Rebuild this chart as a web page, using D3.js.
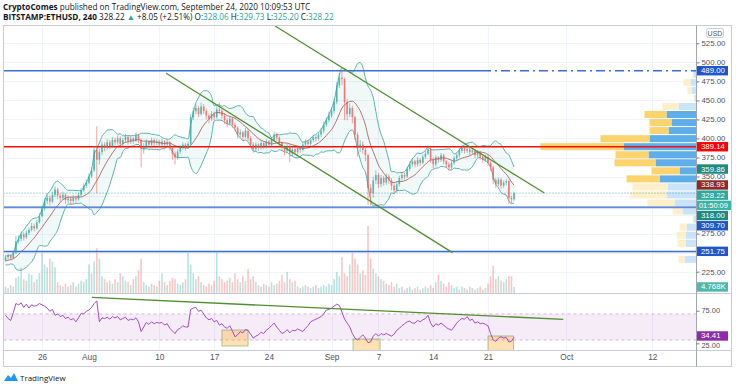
<!DOCTYPE html>
<html>
<head>
<meta charset="utf-8">
<script src="https://cdn.jsdelivr.net/npm/d3@7"></script>
<style>
  body { margin: 0; background: #fff; }
  svg { display: block; font-family: "Liberation Sans", Arial, sans-serif; }
</style>
</head>
<body>
<div id="chart"></div>
<script>
// ETHUSD, Bitstamp - candles (8h buckets from Jul 21 08:00 UTC)
const firstOpen = 240;
const warmupCloses = [236, 238, 235, 239, 241, 238, 236, 240, 242, 240];

const closes = [
  244,246,243,250,265,268,274,270,276,280,
  285,282,290,298,308,318,322,317,326,333,
  325,322,326,319,321,318,322,320,326,332,
  338,342,350,358,385,372,382,392,388,395,
  390,398,395,400,393,398,402,396,400,397,
  404,398,386,390,396,392,398,394,396,392,
  396,392,395,388,380,375,383,388,392,388,
  393,428,436,440,432,442,436,430,426,432,
  428,438,436,430,424,420,426,418,414,405,
  408,402,410,400,392,386,392,388,394,390,
  396,392,398,405,401,394,388,384,390,380,
  386,382,388,385,392,396,393,398,402,400,
  405,410,418,424,430,436,448,470,480,478,
  448,432,440,428,405,390,392,385,378,335,
  328,345,352,340,348,342,350,345,338,332,
  340,348,352,350,360,366,370,366,372,368,
  376,380,386,372,366,375,372,378,370,366,
  362,368,374,378,384,388,384,386,382,384,
  378,382,376,372,376,368,362,345,340,346,
  338,342,344,322,320,328.22
];

const highs = [
  247,249,248,252,272,273,278,277,279,283,
  289,288,293,302,312,322,326,325,330,337,
  335,328,330,328,325,324,326,325,329,335,
  341,346,354,362,390,416,387,396,395,399,
  398,402,401,404,403,401,406,404,403,402,
  408,406,400,394,399,398,401,400,399,398,
  399,398,398,397,390,383,386,391,395,394,
  396,432,441,445,443,447,445,439,433,436,
  435,442,447,439,433,427,429,428,421,416,
  412,410,414,412,403,395,395,394,397,396,
  399,398,402,409,408,403,396,391,393,392,
  389,388,391,390,395,399,398,401,405,404,
  408,414,422,428,435,441,452,474,486,490,
  480,452,446,443,430,408,398,396,388,380,
  340,350,358,355,352,351,354,353,348,341,
  343,351,356,355,363,370,374,372,376,374,
  379,384,391,388,375,378,377,381,380,372,
  369,371,377,381,387,391,390,389,388,387,
  386,385,384,379,379,378,370,364,348,349,
  348,345,347,346,325,330
];

const lows = [
  238,241,240,242,248,262,265,266,268,273,
  278,278,280,288,296,305,314,312,315,323,
  320,317,319,314,315,313,315,316,318,324,
  330,335,340,348,356,328,366,378,383,385,
  386,388,391,392,389,390,395,392,393,393,
  395,394,362,380,387,388,389,390,391,388,
  389,387,389,384,372,366,372,380,385,384,
  386,391,424,432,428,430,432,425,420,423,
  424,426,432,426,419,415,417,414,409,400,
  401,397,400,396,388,381,383,384,385,386,
  387,388,390,396,397,390,384,378,381,369,
  376,378,379,381,383,389,389,390,395,396,
  397,402,407,415,421,427,433,445,466,470,
  424,424,428,420,398,376,382,380,370,313,
  312,322,340,335,336,338,339,340,332,328,
  329,337,345,346,348,357,363,362,363,364,
  366,373,378,368,361,363,368,369,366,361,
  358,359,365,371,375,381,380,381,378,379,
  374,375,372,368,369,364,357,340,335,337,
  334,335,338,314,315,318
];

// volume, thousands of ETH
const volumes = [
  5,4,6,5,11,12,18,10,9,14,
  13,8,10,14,28,20,18,24,22,18,
  8,6,5,7,5,6,8,5,7,9,
  8,10,20,14,22,31,24,12,10,8,
  9,7,10,8,14,12,9,8,6,10,
  12,16,24,8,6,5,7,6,5,9,
  14,8,6,9,11,10,7,6,8,10,
  28,20,14,10,12,8,6,5,7,6,
  9,28,12,10,8,9,11,8,14,10,
  8,12,9,17,10,12,8,6,5,7,
  6,5,8,6,7,9,13,8,15,10,
  8,9,5,4,5,6,5,4,5,6,
  4,5,6,5,7,6,10,15,12,25,
  14,12,20,28,24,20,14,16,13,46,
  24,17,14,12,10,9,7,6,8,5,
  7,4,5,3,4,5,3,4,5,3,
  4,5,4,6,4,8,13,9,7,5,
  8,6,4,5,3,5,4,3,5,4,
  3,4,5,3,4,7,12,19,10,12,
  9,8,10,12,12,4.768
];

const rsiValues = [
  68,63,60,72,86,84,87,80,85,79,
  84,82,83,86,84,82,79,74,77,68,
  70,66,68,63,65,61,63,58,64,71,
  70,74,76,80,86,90,58,64,63,65,
  62,66,64,66,61,63,65,60,62,61,
  64,58,43,50,57,54,58,55,57,56,
  57,53,55,48,44,40,46,48,52,50,
  50,77,79,80,74,76,70,64,61,63,
  58,60,53,55,50,48,52,44,35,38,
  43,41,46,45,39,33,36,38,42,40,
  45,48,52,56,50,45,40,42,46,41,
  45,44,47,45,43,48,52,58,60,62,
  64,66,70,76,77,79,82,85,83,73,
  62,56,50,40,33,30,34,38,33,26,
  27,36,40,36,40,38,40,38,36,39,
  45,48,52,55,58,59,56,56,60,58,
  61,63,68,56,50,55,53,56,53,49,
  47,45,50,56,60,63,62,66,60,62,
  56,58,55,56,54,52,40,30,28,33,
  35,33,34,27,28,34.41
];

// volume profile, visible range (rows from the top price down)
const vpTopPrice = 489.6;
const vpRowSize = 10.57;
const vpUp   = [3,6,5,2,18,30,25,28,47,73,48,41,17,37,29,30,22,14,3,10,11,11,1,12];
const vpDown = [1,7,4,1,16,22,22,19,49,83,33,41,28,33,35,36,27,10,1,7,9,8,0,6];
const vpValueArea = [5, 13];

const priceTicks = [525, 500, 475, 450, 425, 400, 375, 350, 275, 225];
const priceGrid = [525, 500, 475, 450, 425, 400, 375, 350, 325, 300, 275, 250, 225];
const rsiTicks = [75, 25];
const tickDates = ["2020-07-26","2020-08-01","2020-08-10","2020-08-17","2020-08-24","2020-09-01","2020-09-07","2020-09-14","2020-09-21","2020-10-01","2020-10-12"];
const tickLabels = ["26","Aug","10","17","24","Sep","7","14","21","Oct","12"];

const levelPrices = [489.00, 389.14, 309.70, 251.75];
const lastPrice = 328.22;
const bbLast = [359.86, 338.93, 318.00];
const countdown = "01:50:09";
const lastVolumeText = "4.768K";
const lastRsi = 34.41;

const channelUpper = [["2020-08-24T19:00Z", 547.7], ["2020-09-28T05:00Z", 328.4]];
const channelLower = [["2020-08-10T21:00Z", 485.6], ["2020-09-16T11:00Z", 250.0]];
const rsiTrend = [["2020-08-01T09:00Z", 95.5], ["2020-09-30T15:00Z", 61.8]];
const rsiBoxes = [
  ["2020-08-18T00:00Z", "2020-08-21T08:00Z", 45.4, 20.9],
  ["2020-09-03T18:00Z", "2020-09-07T05:00Z", 31.6, 14],
  ["2020-09-21T00:00Z", "2020-09-24T06:00Z", 36.2, 14]
];

const headerLine1 = ["CryptoComes", " published on TradingView.com, September 24, 2020 10:09:53 UTC"];
const headerSymbol = "BITSTAMP:ETHUSD, 240";
const headerChange = ["328.22", "▲", "+8.05 (+2.51%)"];
const headerOHLC = [["O:", "328.06"], ["H:", "329.73"], ["L:", "325.20"], ["C:", "328.22"]];

// ---------------------------------------------------------------------------
const W = 736, H = 387;
const LEFT = 3.5, AXIS_X = 696.5, RIGHT = 731.5;
const TOP = 25.5, PRICE_BOTTOM = 293.5, RSI_BOTTOM = 350.5, BOTTOM = 366.5;
const START = Date.UTC(2020, 6, 21, 8);
const STEP = 8 * 3600e3;

const UP = "#26a69a", DOWN = "#ef5350", LEVEL_BLUE = "#3b6fd4";

const svg = d3.select("#chart").append("svg")
  .attr("width", W).attr("height", H);

const x = d3.scaleUtc()
  .domain([new Date("2020-07-26T00:00Z"), new Date("2020-09-21T00:00Z")])
  .range([42, 488]);
const y = d3.scaleLinear().domain([225, 525]).range([271.7, 43.3]);
const rsiY = d3.scaleLinear().domain([25, 75]).range([343.3, 310.7]);
const volY = d3.scaleLinear().domain([0, 46]).range([294, 226]);
const vpX = d3.scaleLinear().domain([0, 156]).range([AXIS_X, AXIS_X - 156]);

const candles = closes.map((c, i) => ({
  t: new Date(START + i * STEP),
  o: i === 0 ? firstOpen : closes[i - 1],
  h: highs[i], l: lows[i], c: c, v: volumes[i], rsi: rsiValues[i]
}));

// bollinger (period 10 on 8h = 20 on 4h), 2 std
const allCloses = warmupCloses.concat(closes);
const bb = closes.map((c, i) => {
  const win = allCloses.slice(i + warmupCloses.length - 9, i + warmupCloses.length + 1);
  const m = d3.mean(win);
  const sd = Math.sqrt(d3.mean(win, v => (v - m) * (v - m)));
  return { t: candles[i].t, mid: m, up: m + 2 * sd, lo: m - 2 * sd };
});

// clip paths
const defs = svg.append("defs");
defs.append("clipPath").attr("id", "pricePane").append("rect")
  .attr("x", LEFT).attr("y", TOP).attr("width", AXIS_X - LEFT).attr("height", PRICE_BOTTOM - TOP);
defs.append("clipPath").attr("id", "rsiPane").append("rect")
  .attr("x", LEFT).attr("y", PRICE_BOTTOM).attr("width", AXIS_X - LEFT).attr("height", RSI_BOTTOM - PRICE_BOTTOM);

// header
const header = svg.append("g").style("font-family", "'Open Sans', 'Liberation Sans', sans-serif").style("font-size", "8.2px").attr("fill", "#131722");
const h1 = header.append("text").attr("x", 3).attr("y", 9.5);
h1.append("tspan").attr("font-weight", "bold").text(headerLine1[0]);
h1.append("tspan").text(headerLine1[1]);
const h2 = header.append("text").attr("x", 3).attr("y", 19.5);
h2.append("tspan").attr("font-weight", "bold").text(headerSymbol);
h2.append("tspan").text(" " + headerChange[0] + " ");
h2.append("tspan").attr("fill", UP).text(headerChange[1]);
h2.append("tspan").text(" " + headerChange[2]);
headerOHLC.forEach(([k, v]) => {
  h2.append("tspan").text(" " + k);
  h2.append("tspan").attr("fill", UP).text(v);
});

// grid
const grid = svg.append("g").attr("stroke", "#f0f3fa").attr("stroke-width", 1);
grid.selectAll("line.h").data(priceGrid).enter().append("line")
  .attr("x1", LEFT).attr("x2", AXIS_X)
  .attr("y1", d => Math.round(y(d)) + 0.5).attr("y2", d => Math.round(y(d)) + 0.5);
grid.selectAll("line.v").data(tickDates).enter().append("line")
  .attr("x1", d => Math.round(x(new Date(d + "T00:00Z"))) + 0.5)
  .attr("x2", d => Math.round(x(new Date(d + "T00:00Z"))) + 0.5)
  .attr("y1", TOP).attr("y2", RSI_BOTTOM);

// volume profile
const vp = svg.append("g");
vpUp.forEach((u, i) => {
  const d = vpDown[i];
  const y0 = y(vpTopPrice - i * vpRowSize) + 0.5;
  const y1 = y(vpTopPrice - (i + 1) * vpRowSize) - 0.5;
  const inVA = i >= vpValueArea[0] && i <= vpValueArea[1];
  vp.append("rect").attr("x", vpX(u)).attr("y", y0).attr("width", AXIS_X - vpX(u)).attr("height", y1 - y0)
    .attr("fill", inVA ? "#5eaeea" : "#c9e3f8");
  vp.append("rect").attr("x", vpX(u + d)).attr("y", y0).attr("width", vpX(u) - vpX(u + d)).attr("height", y1 - y0)
    .attr("fill", inVA ? "#fcd36c" : "#fdefc9");
});

const price = svg.append("g").attr("clip-path", "url(#pricePane)");

// volume bars
price.selectAll("rect.vol").data(candles).enter().append("rect")
  .attr("x", d => x(d.t) - 0.8).attr("width", 1.6)
  .attr("y", d => volY(d.v)).attr("height", d => volY(0) - volY(d.v))
  .attr("fill", d => d.c >= d.o ? UP : DOWN).attr("opacity", 0.33);

// bollinger bands
price.append("path").datum(bb)
  .attr("d", d3.area().x(d => x(d.t)).y0(d => y(d.lo)).y1(d => y(d.up)).curve(d3.curveMonotoneX))
  .attr("fill", "rgba(38,166,154,0.07)");
[["up", "#5cb3a9"], ["lo", "#5cb3a9"], ["mid", "#b06363"]].forEach(([k, col]) => {
  price.append("path").datum(bb)
    .attr("d", d3.line().x(d => x(d.t)).y(d => y(d[k])).curve(d3.curveMonotoneX))
    .attr("fill", "none").attr("stroke", col).attr("stroke-width", k === "mid" ? 0.9 : 1);
});

// horizontal levels
const lastY = y(lastPrice);
price.append("line").attr("x1", LEFT).attr("x2", AXIS_X).attr("y1", lastY).attr("y2", lastY)
  .attr("stroke", UP).attr("stroke-width", 0.8).attr("stroke-dasharray", "1,2");
levelPrices.forEach((p, i) => {
  const yy = y(p);
  if (i === 1) {
    price.append("line").attr("x1", LEFT).attr("x2", AXIS_X).attr("y1", yy).attr("y2", yy)
      .attr("stroke", "#f01010").attr("stroke-width", 1.3);
    return;
  }
  if (i === 0) {
    price.append("line").attr("x1", LEFT).attr("x2", 482).attr("y1", yy).attr("y2", yy)
      .attr("stroke", LEVEL_BLUE).attr("stroke-width", 1.5);
    price.append("line").attr("x1", 482).attr("x2", AXIS_X).attr("y1", yy).attr("y2", yy)
      .attr("stroke", LEVEL_BLUE).attr("stroke-width", 1.5).attr("stroke-dasharray", "9,4,2,4");
    return;
  }
  price.append("line").attr("x1", LEFT).attr("x2", AXIS_X).attr("y1", yy + 0.8).attr("y2", yy + 0.8)
    .attr("stroke", "#a9c1ef").attr("stroke-width", 1.2);
  price.append("line").attr("x1", LEFT).attr("x2", AXIS_X).attr("y1", yy).attr("y2", yy)
    .attr("stroke", LEVEL_BLUE).attr("stroke-width", 1.2);
});

// candles
const cg = price.append("g").attr("opacity", 0.78);
cg.selectAll("line").data(candles).enter().append("line")
  .attr("x1", d => x(d.t)).attr("x2", d => x(d.t))
  .attr("y1", d => y(d.h)).attr("y2", d => y(d.l))
  .attr("stroke", d => d.c >= d.o ? UP : DOWN).attr("stroke-width", 0.7);
cg.selectAll("rect").data(candles).enter().append("rect")
  .attr("x", d => x(d.t) - 0.8).attr("width", 1.6)
  .attr("y", d => y(Math.max(d.o, d.c)))
  .attr("height", d => Math.max(0.8, Math.abs(y(d.o) - y(d.c))))
  .attr("fill", d => d.c >= d.o ? UP : DOWN);

// channel lines
[channelUpper, channelLower].forEach(seg => {
  price.append("line")
    .attr("x1", x(new Date(seg[0][0]))).attr("y1", y(seg[0][1]))
    .attr("x2", x(new Date(seg[1][0]))).attr("y2", y(seg[1][1]))
    .attr("stroke", "#4f8f2f").attr("stroke-width", 1.3);
});

// RSI pane
const rsiG = svg.append("g").attr("clip-path", "url(#rsiPane)");
rsiG.append("rect").attr("x", LEFT).attr("width", AXIS_X - LEFT)
  .attr("y", rsiY(70)).attr("height", rsiY(30) - rsiY(70))
  .attr("fill", "rgba(156,39,176,0.09)");
[70, 30].forEach(v => {
  rsiG.append("line").attr("x1", LEFT).attr("x2", AXIS_X).attr("y1", rsiY(v)).attr("y2", rsiY(v))
    .attr("stroke", "#c9a6d3").attr("stroke-dasharray", "3,3").attr("stroke-width", 0.8);
});
rsiG.selectAll("rect.box").data(rsiBoxes).enter().append("rect")
  .attr("x", d => x(new Date(d[0]))).attr("width", d => x(new Date(d[1])) - x(new Date(d[0])))
  .attr("y", d => rsiY(d[2])).attr("height", d => rsiY(d[3]) - rsiY(d[2]))
  .attr("fill", "rgba(255,176,59,0.38)").attr("stroke", "rgba(104,170,80,0.7)").attr("stroke-width", 0.8);
rsiG.append("path").datum(candles)
  .attr("d", d3.line().x(d => x(d.t)).y(d => rsiY(d.rsi)))
  .attr("fill", "none").attr("stroke", "#a64cc4").attr("stroke-width", 1);
rsiG.append("line")
  .attr("x1", x(new Date(rsiTrend[0][0]))).attr("y1", rsiY(rsiTrend[0][1]))
  .attr("x2", x(new Date(rsiTrend[1][0]))).attr("y2", rsiY(rsiTrend[1][1]))
  .attr("stroke", "#4f8f2f").attr("stroke-width", 1.3);

// frame and separators
const frame = svg.append("g").attr("stroke", "#c9ccd4").attr("fill", "none");
frame.append("rect").attr("x", LEFT).attr("y", TOP).attr("width", RIGHT - LEFT).attr("height", BOTTOM - TOP);
frame.append("line").attr("x1", LEFT).attr("x2", RIGHT).attr("y1", PRICE_BOTTOM).attr("y2", PRICE_BOTTOM);
frame.append("line").attr("x1", LEFT).attr("x2", RIGHT).attr("y1", RSI_BOTTOM).attr("y2", RSI_BOTTOM);
frame.append("line").attr("x1", AXIS_X).attr("x2", AXIS_X).attr("y1", TOP).attr("y2", BOTTOM).attr("stroke", "#a3a6af");

// price axis
const yAxis = d3.axisRight(y).tickValues(priceTicks).tickFormat(d3.format(".2f")).tickSize(3);
const ya = svg.append("g").attr("transform", `translate(${AXIS_X},0)`).call(yAxis);
ya.select(".domain").remove();
ya.selectAll("line").attr("stroke", "#787b86");
ya.selectAll("text").attr("x", 5).attr("dy", "0.3em").attr("fill", "#50535e").style("font-size", "7.8px");

const rAxis = d3.axisRight(rsiY).tickValues(rsiTicks).tickFormat(d3.format(".2f")).tickSize(3);
const ra = svg.append("g").attr("transform", `translate(${AXIS_X},0)`).call(rAxis);
ra.select(".domain").remove();
ra.selectAll("line").attr("stroke", "#787b86");
ra.selectAll("text").attr("x", 5).attr("fill", "#50535e").style("font-size", "7.4px")
  .attr("dy", d => d === 25 ? "0.62em" : "0.3em");

// time axis
const xAxis = d3.axisBottom(x).tickValues(tickDates.map(d => new Date(d + "T00:00Z")))
  .tickFormat((d, i) => tickLabels[i]).tickSize(0);
const xa = svg.append("g").attr("transform", `translate(0,${RSI_BOTTOM})`).call(xAxis);
xa.select(".domain").remove();
xa.selectAll("text").attr("y", 4).attr("fill", "#50535e").style("font-size", "8.3px");

// price axis markers
const markers = [
  { v: levelPrices[0], text: levelPrices[0].toFixed(2), bg: "#1f56c9" },
  { v: levelPrices[1], text: levelPrices[1].toFixed(2), bg: "#ff0000" },
  { v: bbLast[0], text: bbLast[0].toFixed(2), bg: "#1e8a7e" },
  { v: bbLast[1], text: bbLast[1].toFixed(2), bg: "#8c2a2a" },
  { v: lastPrice, text: lastPrice.toFixed(2), bg: "#2ea89b" },
  { v: lastPrice - 0.01, text: countdown, bg: "#3db3a6", wide: true },
  { v: bbLast[2], text: bbLast[2].toFixed(2), bg: "#1e8a7e" },
  { v: levelPrices[2], text: levelPrices[2].toFixed(2), bg: "#1f56c9" },
  { v: levelPrices[3], text: levelPrices[3].toFixed(2), bg: "#1f56c9" }
];
let prevY = -Infinity;
markers.forEach(m => {
  m.y = Math.max(y(m.v), prevY + 10.2);
  prevY = m.y;
});
markers.push({ y: volY(4.768), text: lastVolumeText, bg: "#4fb8ad" });
markers.push({ y: rsiY(lastRsi) - 1.2, text: lastRsi.toFixed(2), bg: "#8e2ba8" });
const mk = svg.append("g").selectAll("g").data(markers).enter().append("g")
  .attr("transform", d => `translate(${AXIS_X + 0.5},${d.y})`);
mk.append("rect").attr("x", 0).attr("y", -4.7).attr("width", d => d.wide ? 34 : 31).attr("height", 9.4)
  .attr("fill", d => d.bg);
mk.append("text").attr("x", d => d.wide ? 2 : 4).attr("dy", "0.32em").attr("fill", "#fff")
  .style("font-size", d => d.wide ? "7.4px" : "7.8px")
  .text(d => d.text);

// USD badge
const usd = svg.append("g");
usd.append("rect").attr("x", 706.5).attr("y", 28.5).attr("width", 17).attr("height", 9).attr("rx", 2)
  .attr("fill", "#fff").attr("stroke", "#c9ccd4");
usd.append("text").attr("x", 715).attr("y", 35.6).attr("text-anchor", "middle")
  .attr("fill", "#50535e").style("font-size", "7px").text("USD");

// TradingView mark
const logo = svg.append("g").attr("transform", "translate(4,372)");
logo.append("path").attr("d", "M0,9 L4,3 L7,6 L10,1 L14,9 Z").attr("fill", "#2196f3");
logo.append("text").attr("x", 16).attr("y", 8.5).attr("fill", "#131722")
  .style("font-family", "'Open Sans', sans-serif").style("font-size", "8px").text("TradingView");
</script>
</body>
</html>
